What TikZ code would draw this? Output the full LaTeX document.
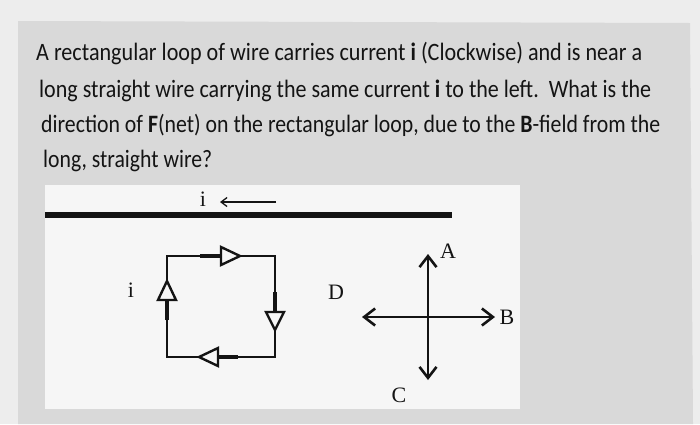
\documentclass[tikz,border=0pt]{standalone}
\usepackage{fontspec}
\usepackage{graphicx}
\setmainfont{Carlito}
\newfontfamily\seriffont{Liberation Serif}
\usetikzlibrary{arrows.meta}
\definecolor{outerbg}{HTML}{EDEDED}
\definecolor{panelbg}{HTML}{D9D9D9}
\definecolor{boxbg}{HTML}{F6F6F6}
\definecolor{ink}{HTML}{141414}
\tikzset{
  qline/.style={anchor=base west, inner sep=0pt, text=ink, font=\fontsize{25}{30}\selectfont},
  lbl/.style={inner sep=0pt, text=ink, font=\seriffont\fontsize{22}{26}\selectfont},
  wire/.style={draw=ink, line width=2.4pt},
  thickseg/.style={draw=ink, line width=4.5pt},
  tri/.style={draw=ink, fill=boxbg, line width=2.4pt, line join=miter},
  dirarrow/.style={draw=ink, line width=2.6pt, -{Straight Barb[length=11pt,width=17pt,line width=2.6pt]}},
}
\begin{document}
\begin{tikzpicture}[x=1pt,y=-1pt]
\useasboundingbox (0,0) rectangle (700,424);
\fill[outerbg] (0,0) rectangle (700,424);
\fill[panelbg] (18,21) -- (690,23) -- (693,424) -- (18,424) -- cycle;
\fill[boxbg] (45,185) rectangle (520,409);

% question text
\node[qline] (l1) at (36,60) {\resizebox{606pt}{\height}{A rectangular loop of wire carries current \textbf{i} (Clockwise) and is near a}};
\node[qline] (l2) at (39,97) {\resizebox{612pt}{\height}{long straight wire carrying the same current \textbf{i} to the left.\ \ What is the}};
\node[qline] (l3) at (41,132) {\resizebox{619pt}{\height}{direction of \textbf{F}(net) on the rectangular loop, due to the \textbf{B}-field from the}};
\node[qline] (l4) at (43,167) {\resizebox{169pt}{\height}{long, straight wire?}};

% long straight wire
\coordinate (wl) at (45,215);
\coordinate (wr) at (452,215);
\draw[draw=ink, line width=6pt] (wl) -- (wr);
\node[lbl, anchor=base] (itop) at (203,206) {i};
\coordinate (ia1) at (276,202);
\coordinate (ia2) at (220,202);
\draw[draw=ink, line width=1.5pt, -{Straight Barb[length=6pt,width=9pt,line width=1.3pt]}] (ia1) -- (ia2);

% rectangular loop
\coordinate (tl) at (167,256);
\coordinate (tr) at (275,256);
\coordinate (br) at (275,357);
\coordinate (bl) at (167,357);
\draw[wire, line join=miter] (tl) -- (tr) -- (br) -- (bl) -- cycle;
% top: right
\draw[thickseg] (200,256) -- (221,256);
\draw[tri] (221,247) -- (240,256) -- (221,265) -- cycle;
% left: up
\draw[thickseg] (167,320) -- (167,300);
\draw[tri] (158,300) -- (167,281) -- (176,300) -- cycle;
% right: down
\draw[thickseg] (275,292) -- (275,312);
\draw[tri] (266,312) -- (275,330) -- (284,312) -- cycle;
% bottom: left
\draw[thickseg] (238,357) -- (218,357);
\draw[tri] (218,348) -- (199,357) -- (218,366) -- cycle;
\node[lbl] (ileft) at (131,290) {i};

% direction cross
\coordinate (cc) at (428,317);
\coordinate (ca) at (428,254);
\coordinate (cb) at (495,317);
\coordinate (cd) at (362,317);
\coordinate (ccc) at (428,380);
\draw[dirarrow] (cc) -- (ca);
\draw[dirarrow] (cc) -- (cb);
\draw[dirarrow] (cc) -- (cd);
\draw[dirarrow] (cc) -- (ccc);
\node[lbl] (la) at (448,251) {A};
\node[lbl] (lb) at (507,317) {B};
\node[lbl] (lc) at (399,395) {C};
\node[lbl] (ld) at (336,292) {D};
\end{tikzpicture}
\end{document}
